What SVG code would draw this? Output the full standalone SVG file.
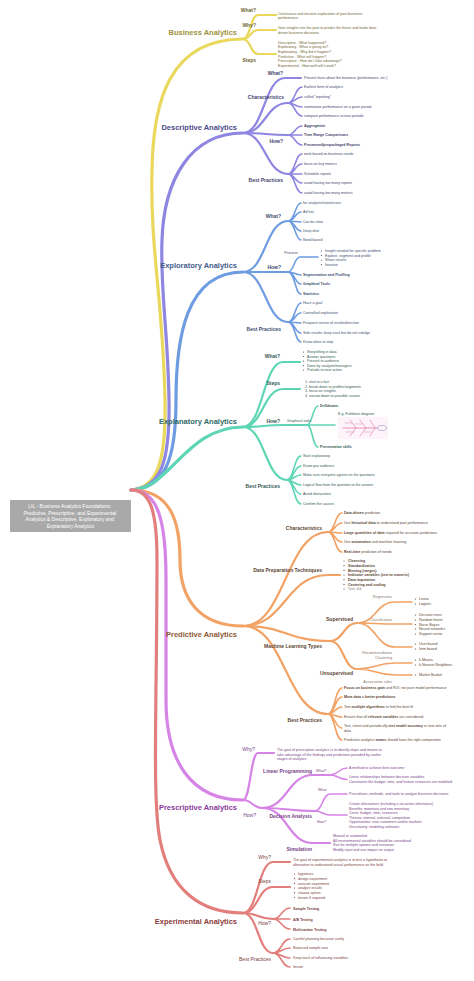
<svg xmlns="http://www.w3.org/2000/svg" width="474" height="981" viewBox="0 0 474 981">
<style>
text{font-family:"Liberation Sans",Arial,sans-serif}
path{fill:none;stroke-linecap:round}
.m{stroke-width:3.2}.s{stroke-width:2.2}.l{stroke-width:1.6}
.mt{font-size:7.5px;font-weight:bold;text-anchor:end}
.st{font-size:5px;font-weight:bold;text-anchor:end}
.sn{font-size:5px;text-anchor:end}
.lf{font-size:3.6px}
.lb{font-size:3.6px;font-weight:bold}
.gl{font-size:3.8px;fill:#8a8a8a;text-anchor:end}
.b{font-weight:bold}
.y{stroke:#e9d85c}.p{stroke:#8e86e0}.u{stroke:#6e9ce0}.g{stroke:#5ed6b5}.o{stroke:#f2a264}.v{stroke:#d684e6}.r{stroke:#e27e7b}
#business text{fill:#6e6633}#business .mt{fill:#a09240}
#descriptive text{fill:#44446e}#descriptive .mt{fill:#4b4b8a}
#exploratory text{fill:#3c4f70}#exploratory .mt{fill:#3f5c8c}
#explanatory text{fill:#355954}#explanatory .mt{fill:#2e6b66}
#predictive text{fill:#5c4534}#predictive .mt{fill:#8c5a35}#predictive .gl{fill:#8a7a70}
#prescriptive text{fill:#7a4488}#prescriptive .mt{fill:#8a3a99}
#experimental text{fill:#7a3e3e}#experimental .mt{fill:#8c3b3b}
</style>
<rect width="474" height="981" fill="#ffffff"/>

<g id="connectors">
<!-- main branches -->
<path class="m y" d="M131,490 C158,488 166,460 165,400 C163,300 150,250 152,170 C153,100 170,39 243,39"/>
<path class="m p" d="M131,490 C162,488 170,460 169,400 C168,330 160,290 162,240 C164,180 190,133 243,133"/>
<path class="m u" d="M131,490 C165,488 176,460 176,400 C176,340 185,272 243,272"/>
<path class="m g" d="M131,490 C170,490 185,427 243,427"/>
<path class="m o" d="M131,490 C170,490 180,520 180,560 C180,600 200,626 243,626"/>
<path class="m v" d="M131,490 C158,490 166,520 166,580 L166,700 C166,760 190,800 243,800"/>
<path class="m r" d="M131,490 C150,490 157,510 157,560 C157,700 152,800 160,840 C170,890 200,913 243,913"/>
<!-- business -->
<path class="s y" d="M243,39 C250.5,39 250.5,15 258,15 H276"/>
<path class="s y" d="M243,39 C250.5,39 250.5,30 258,30 H276"/>
<path class="s y" d="M243,39 C250.5,39 250.5,54 258,54 H276"/>
<!-- descriptive -->
<path class="s p" d="M243,133 C264,133 264,78 285,78 H301"/>
<path class="s p" d="M243,133 C265.5,133 265.5,103 288,103"/>
<path class="s p" d="M243,133 C265.5,133 265.5,135 288,135"/>
<path class="s p" d="M243,133 C265.5,133 265.5,174 288,174"/>
<path class="l p" d="M288,103 C295,103 295,87 302,87 M288,103 C295,103 295,97 302,97 M288,103 C295,103 295,107 302,107 M288,103 C295,103 295,116 302,116"/>
<path class="l p" d="M288,135 C295,135 295,126 302,126 M288,135 H302 M288,135 C295,135 295,145 302,145"/>
<path class="l p" d="M288,174 C295,174 295,154 302,154 M288,174 C295,174 295,164 302,164 M288,174 H302 M288,174 C295,174 295,183 302,183 M288,174 C295,174 295,193 302,193"/>
<!-- exploratory -->
<path class="s u" d="M243,272 C265.5,272 265.5,221 288,221"/>
<path class="s u" d="M243,272 H288"/>
<path class="s u" d="M243,272 C265.5,272 265.5,322 288,322"/>
<path class="l u" d="M288,221 C295,221 295,203 301,203 M288,221 C295,221 295,212 301,212 M288,221 C295,221 295,222 301,222 M288,221 C295,221 295,231 301,231 M288,221 C295,221 295,240 301,240"/>
<path class="l u" d="M288,272 C294,272 294,257 300,257 H318 M288,272 C295,272 295,275 301,275 M288,272 C295,272 295,284 301,284 M288,272 C295,272 295,294 301,294"/>
<path class="l u" d="M288,322 C295,322 295,303 301,303 M288,322 C295,322 295,313 301,313 M288,322 C295,322 295,323 301,323 M288,322 C295,322 295,333 301,333 M288,322 C295,322 295,342 301,342"/>
<!-- explanatory -->
<path class="s g" d="M243,427 C263,427 263,362 283,362 H300"/>
<path class="s g" d="M243,427 C263,427 263,389 283,389 H300"/>
<path class="s g" d="M243,427 C263,427 263,425 283,425 H307"/>
<path class="s g" d="M243,427 C265,427 265,480 287,480"/>
<path class="l g" d="M307,425 C312.5,425 312.5,406 318,406 M307,425 H335 M307,425 C312.5,425 312.5,447 318,447"/>
<path class="l g" d="M287,480 C294,480 294,456 301,456 M287,480 C294,480 294,466 301,466 M287,480 C294,480 294,475 301,475 M287,480 C294,480 294,485 301,485 M287,480 C294,480 294,494 301,494 M287,480 C294,480 294,504 301,504"/>
<!-- predictive -->
<path class="s o" d="M243,626 C285.5,626 285.5,532 328,532"/>
<path class="s o" d="M243,626 C285.5,626 285.5,575 328,575 H340"/>
<path class="s o" d="M243,626 C286.5,626 286.5,641 330,641"/>
<path class="s o" d="M243,626 C285.5,626 285.5,714 328,714"/>
<path class="l o" d="M328,532 C335,532 335,513 342,513 M328,532 C335,532 335,523 342,523 M328,532 C335,532 335,533 342,533 M328,532 C335,532 335,542 342,542 M328,532 C335,532 335,552 342,552"/>
<path class="s o" d="M330,641 C343.5,641 343.5,623 357,623 M330,641 C343.5,641 343.5,669 357,669"/>
<path class="l o" d="M357,623 C376,623 376,602 395,602 H412 M357,623 C376,623 376,624 395,624 H412 M357,623 C376,623 376,647 395,647 H412"/>
<path class="l o" d="M357,669 C376,669 376,663 395,663 H412 M357,669 C376,669 376,675 395,675 H412"/>
<path class="l o" d="M328,714 C335,714 335,688 342,688 M328,714 C335,714 335,697 342,697 M328,714 C335,714 335,707 342,707 M328,714 C335,714 335,717 342,717 M328,714 C335,714 335,728 342,728 M328,714 C335,714 335,740 342,740"/>
<!-- prescriptive -->
<path class="s v" d="M243,800 C250.5,800 250.5,753 258,753 H274"/>
<path class="s v" d="M243,800 C252.5,800 252.5,808 262,808"/>
<path class="s v" d="M262,808 C287.5,808 287.5,775 313,775 H330"/>
<path class="s v" d="M262,808 C288.5,808 288.5,811 315,811"/>
<path class="s v" d="M262,808 C287.5,808 287.5,843 313,843 H330"/>
<path class="l v" d="M330,775 C338.5,775 338.5,768 347,768 M330,775 C338.5,775 338.5,779.5 347,779.5"/>
<path class="l v" d="M315,811 C322.5,811 322.5,794 330,794 H347 M315,811 C322.5,811 322.5,815 330,815 H347"/>
<!-- experimental -->
<path class="s r" d="M243,913 C258,913 258,862 273,862 H290"/>
<path class="s r" d="M243,913 C258,913 258,887 273,887 H290"/>
<path class="s r" d="M243,913 C258,913 258,919 273,919"/>
<path class="s r" d="M243,913 C258,913 258,953 273,953"/>
<path class="l r" d="M273,919 C281.5,919 281.5,908 290,908 M273,919 H290 M273,919 C281.5,919 281.5,929 290,929"/>
<path class="l r" d="M273,953 C281.5,953 281.5,939 290,939 M273,953 C281.5,953 281.5,948 290,948 M273,953 C281.5,953 281.5,958 290,958 M273,953 C281.5,953 281.5,967 290,967"/>
</g>

<g id="root">
<rect x="10" y="500" width="121" height="32" rx="1" fill="#a9a9a9"/>
<text x="70.5" text-anchor="middle" font-size="5px" fill="#ffffff">
<tspan x="70.5" y="508">LIL - Business Analytics Foundations:</tspan>
<tspan x="70.5" y="514.5">Predictive, Prescriptive, and Experimental</tspan>
<tspan x="70.5" y="521">Analytics &amp; Descriptive, Exploratory and</tspan>
<tspan x="70.5" y="527.5">Explanatory Analytics</tspan>
</text>
</g>

<g id="business">
<text class="mt" x="237" y="34.7">Business Analytics</text>
<text class="st" x="256" y="11.8">What?</text>
<text class="st" x="256" y="26.8">Why?</text>
<text class="st" x="256" y="61.8">Steps</text>
<text class="lf" x="278" y="14.6">Continuous and iterative exploration of past business</text>
<text class="lf" x="278" y="19">performance</text>
<text class="lf" x="278" y="29.3">Gain insights into the past to predict the future and make data-</text>
<text class="lf" x="278" y="34">driven business decisions</text>
<text class="lf" x="278" y="43.6">Descriptive - What happened?</text>
<text class="lf" x="278" y="48.3">Exploratory - What is going on?</text>
<text class="lf" x="278" y="53">Explanatory - Why did it happen?</text>
<text class="lf" x="278" y="57.6">Predictive - What will happen?</text>
<text class="lf" x="278" y="62.3">Prescriptive - How do I take advantage?</text>
<text class="lf" x="278" y="67">Experimental - How well will it work?</text>
</g>

<g id="descriptive">
<text class="mt" x="237" y="129.7">Descriptive Analytics</text>
<text class="st" x="283" y="74.8">What?</text>
<text class="st" x="284" y="98.8">Characteristics</text>
<text class="st" x="283" y="142.8">How?</text>
<text class="st" x="283" y="181.8">Best Practices</text>
<text class="lf" x="304" y="79.3">Present facts about the business (performance, etc.)</text>
<text class="lf" x="304" y="88.3">Earliest form of analytics</text>
<text class="lf" x="304" y="98.3">called "reporting"</text>
<text class="lf" x="304" y="108.3">summarize performance on a given period</text>
<text class="lf" x="304" y="117.3">compare performance across periods</text>
<text class="lb" x="304" y="127.3">Aggregation</text>
<text class="lb" x="304" y="136.3">Time Range Comparisons</text>
<text class="lb" x="304" y="146.3">Precanned/prepackaged Reports</text>
<text class="lf" x="304" y="155.3">work based on business needs</text>
<text class="lf" x="304" y="165.3">focus on key metrics</text>
<text class="lf" x="304" y="175.3">Schedule reports</text>
<text class="lf" x="304" y="184.3">avoid having too many reports</text>
<text class="lf" x="304" y="194.3">avoid having too many metrics</text>
</g>

<g id="exploratory">
<text class="mt" x="237" y="267.7">Exploratory Analytics</text>
<text class="st" x="281" y="217.8">What?</text>
<text class="st" x="281" y="268.8">How?</text>
<text class="st" x="281" y="330.8">Best Practices</text>
<text class="lf" x="303" y="204.3">for analysts/statisticians</text>
<text class="lf" x="303" y="213.3">Ad hoc</text>
<text class="lf" x="303" y="223.3">Can be slow</text>
<text class="lf" x="303" y="232.3">Deep dive</text>
<text class="lf" x="303" y="241.3">Need based</text>
<text class="gl" x="298" y="254.3">Process</text>
<circle cx="321.5" cy="251" r="0.6" fill="#3c4f70"/><circle cx="321.5" cy="255.5" r="0.6" fill="#3c4f70"/><circle cx="321.5" cy="260" r="0.6" fill="#3c4f70"/><circle cx="321.5" cy="264.5" r="0.6" fill="#3c4f70"/>
<text class="lf" x="325" y="252.3">Insight needed for specific problem</text>
<text class="lf" x="325" y="256.8">Explore, segment and profile</text>
<text class="lf" x="325" y="261.3">Share results</text>
<text class="lf" x="325" y="265.8">Iterative</text>
<text class="lb" x="303" y="276.3">Segmentation and Profiling</text>
<text class="lb" x="303" y="285.3">Graphical Tools</text>
<text class="lb" x="303" y="295.3">Statistics</text>
<text class="lf" x="303" y="304.3">Have a goal</text>
<text class="lf" x="303" y="314.3">Controlled exploration</text>
<text class="lf" x="303" y="324.3">Frequent review of results/direction</text>
<text class="lf" x="303" y="334.3">Side results: keep track but do not indulge</text>
<text class="lf" x="303" y="343.3">Know when to stop</text>
</g>

<g id="explanatory">
<text class="mt" x="237" y="423.7">Explanatory Analytics</text>
<text class="st" x="280" y="357.8">What?</text>
<text class="st" x="280" y="384.8">Steps</text>
<text class="st" x="280" y="422.8">How?</text>
<text class="st" x="280" y="487.8">Best Practices</text>
<circle cx="303.5" cy="352" r="0.6" fill="#355954"/><circle cx="303.5" cy="356.5" r="0.6" fill="#355954"/><circle cx="303.5" cy="361" r="0.6" fill="#355954"/><circle cx="303.5" cy="365.5" r="0.6" fill="#355954"/><circle cx="303.5" cy="370" r="0.6" fill="#355954"/>
<text class="lf" x="307" y="353.3">Storytelling in data</text>
<text class="lf" x="307" y="357.8">Answer questions</text>
<text class="lf" x="307" y="362.3">Present to audience</text>
<text class="lf" x="307" y="366.8">Done by analysts/managers</text>
<text class="lf" x="307" y="371.3">Prelude to next action</text>
<text class="lf" x="305" y="383.3">1. start w a fact</text>
<text class="lf" x="305" y="387.8">2. break down to profiles/segments</text>
<text class="lf" x="305" y="392.3">3. focus on insights</text>
<text class="lf" x="305" y="396.8">4. narrow down to possible causes</text>
<text class="lf" x="287" y="422.3" font-size="3.8px">Graphical tools</text>
<text class="lb" x="320" y="407.3">Drilldowns</text>
<text class="lb" x="320" y="448.3">Presentation skills</text>
<text class="lf" x="338" y="415.3">E.g. Fishbone diagram</text>
<g id="fishbone">
<rect x="338" y="417" width="50" height="22" fill="#fdf3f8"/>
<path d="M343,428 H377" stroke="#e07aa8" stroke-width="0.8"/>
<path d="M350,420 L356,428 M360,420 L366,428 M370,420 L375,428 M350,436 L356,428 M360,436 L366,428 M370,436 L375,428" stroke="#e07aa8" stroke-width="0.6"/>
<ellipse cx="382" cy="428" rx="4.5" ry="2.5" fill="none" stroke="#8a7ab8" stroke-width="0.5"/>
<path d="M345,423 H352 M346,432 H354 M355,424 H362 M364,432 H371" stroke="#c070a0" stroke-width="0.4"/>
</g>
<text class="lf" x="303" y="457.3">Start explanatory</text>
<text class="lf" x="303" y="467.3">Know you audience</text>
<text class="lf" x="303" y="476.3">Make sure everyone agrees on the questions</text>
<text class="lf" x="303" y="486.3">Logical flow from the question to the answer</text>
<text class="lf" x="303" y="495.3">Avoid distractions</text>
<text class="lf" x="303" y="505.3">Confirm the causes</text>
</g>

<g id="predictive">
<text class="mt" x="237" y="636.7">Predictive Analytics</text>
<text class="st" x="322" y="529.8">Characteristics</text>
<text class="st" x="322" y="571.8">Data Preparation Techniques</text>
<text class="st" x="322" y="647.8">Machine Learning Types</text>
<text class="st" x="322" y="721.8">Best Practices</text>
<text class="lf" x="344" y="514.3"><tspan class="b">Data-driven</tspan> prediction</text>
<text class="lf" x="344" y="524.3">Use <tspan class="b">historical data</tspan> to understand past performance</text>
<text class="lf" x="344" y="534.3"><tspan class="b">Large quantities of data</tspan> required for accurate predictions</text>
<text class="lf" x="344" y="543.3">Use <tspan class="b">automation</tspan> and machine learning</text>
<text class="lf" x="344" y="553.3"><tspan class="b">Real-time</tspan> prediction of trends</text>
<circle cx="344" cy="561" r="0.6" fill="#5c4534"/><circle cx="344" cy="565.7" r="0.6" fill="#5c4534"/><circle cx="344" cy="570.4" r="0.6" fill="#5c4534"/><circle cx="344" cy="575" r="0.6" fill="#5c4534"/><circle cx="344" cy="579.7" r="0.6" fill="#5c4534"/><circle cx="344" cy="584.4" r="0.6" fill="#5c4534"/><circle cx="344" cy="589" r="0.6" fill="#5c4534"/>
<text class="lb" x="348" y="562.3">Cleansing</text>
<text class="lb" x="348" y="567">Standardization</text>
<text class="lb" x="348" y="571.7">Binning (ranges)</text>
<text class="lb" x="348" y="576.3">Indicator variables (text to numeric)</text>
<text class="lb" x="348" y="581">Data imputation</text>
<text class="lb" x="348" y="585.7">Centering and scaling</text>
<text class="lf" x="348" y="590.3" style="fill:#8a7a70">Test: d'd</text>
<text class="st" x="353" y="621.3" font-size="3.8px">Supervised</text>
<text class="st" x="353" y="675.3" font-size="3.8px">Unsupervised</text>
<text class="gl" x="392" y="598.3">Regression</text>
<text class="gl" x="392" y="621.3">Classification</text>
<text class="gl" x="392" y="654.3">Recommendation</text>
<text class="gl" x="392" y="659.3">Clustering</text>
<text class="gl" x="392" y="683.3">Association rules</text>
<g fill="#5c4534">
<circle cx="415.5" cy="599" r="0.6"/><circle cx="415.5" cy="604" r="0.6"/>
<circle cx="415.5" cy="615" r="0.6"/><circle cx="415.5" cy="620" r="0.6"/><circle cx="415.5" cy="624.5" r="0.6"/><circle cx="415.5" cy="629" r="0.6"/><circle cx="415.5" cy="634" r="0.6"/>
<circle cx="415.5" cy="644" r="0.6"/><circle cx="415.5" cy="649" r="0.6"/>
<circle cx="415.5" cy="660" r="0.6"/><circle cx="415.5" cy="665" r="0.6"/>
<circle cx="415.5" cy="675" r="0.6"/>
</g>
<text class="lf" x="419" y="600.3">Linear</text>
<text class="lf" x="419" y="605.3">Logistic</text>
<text class="lf" x="419" y="616.3">Decision trees</text>
<text class="lf" x="419" y="621.3">Random forest</text>
<text class="lf" x="419" y="625.8">Naive Bayes</text>
<text class="lf" x="419" y="630.3">Neural networks</text>
<text class="lf" x="419" y="635.3">Support vector</text>
<text class="lf" x="419" y="645.3">User based</text>
<text class="lf" x="419" y="650.3">Item based</text>
<text class="lf" x="419" y="661.3">k-Means</text>
<text class="lf" x="419" y="666.3">k-Nearest Neighbors</text>
<text class="lf" x="419" y="676.3">Market Basket</text>
<text class="lf" x="344" y="689.3"><tspan class="b">Focus on business gain</tspan> and ROI, not pure model performance</text>
<text class="lf" x="344" y="698.3"><tspan class="b">More data = better predictions</tspan></text>
<text class="lf" x="344" y="708.3">Test <tspan class="b">multiple algorithms</tspan> to find the best fit</text>
<text class="lf" x="344" y="718.3">Ensure that all <tspan class="b">relevant variables</tspan> are considered</text>
<text class="lf" x="344" y="727.3">Test, retest and periodically <tspan class="b">test model accuracy</tspan> w new sets of</text>
<text class="lf" x="344" y="731.7">data</text>
<text class="lf" x="344" y="741.3">Predictive analytics <tspan class="b">teams</tspan> should have the right composition</text>
</g>

<g id="prescriptive">
<text class="mt" x="237" y="809.7">Prescriptive Analytics</text>
<text class="sn" x="255" y="750.8">Why?</text>
<text class="sn" x="256" y="816.8">How?</text>
<text class="lf" x="277" y="751.3">The goal of prescriptive analytics is to identify steps and means to</text>
<text class="lf" x="277" y="755.8">take advantage of the findings and predictions provided by earlier</text>
<text class="lf" x="277" y="760.3">stages of analytics</text>
<text class="st" x="312" y="772.8">Linear Programming</text>
<text class="lf" x="316" y="772.4" font-size="4px">What?</text>
<text class="lf" x="349" y="769.3">A method to achieve best outcome</text>
<text class="lf" x="349" y="778.3">Linear relationships between decision variables</text>
<text class="lf" x="349" y="783.3">Constraints like budget, time, and human resources are modeled</text>
<text class="st" x="312" y="817.8">Decision Analysis</text>
<text class="lf" x="318" y="791.4" font-size="4px">What</text>
<text class="lf" x="317" y="823.4" font-size="4px">How?</text>
<text class="lf" x="349" y="795.3">Procedures, methods, and tools to analyze business decisions</text>
<text class="lf" x="349" y="805.3">Create alternatives (including a no-action alternative)</text>
<text class="lf" x="349" y="809.8">Benefits: monetary and non-monetary</text>
<text class="lf" x="349" y="814.3">Costs: budget, time, resources</text>
<text class="lf" x="349" y="818.8">Threats: internal, external, competition</text>
<text class="lf" x="349" y="823.3">Opportunities: new customers and/or markets</text>
<text class="lf" x="349" y="827.8">Uncertainty: modeling unknown</text>
<text class="st" x="312" y="850.8">Simulation</text>
<text class="lf" x="333" y="837.3">Manual or automated</text>
<text class="lf" x="333" y="841.8">All environmental variables should be considered</text>
<text class="lf" x="333" y="846.3">Run for multiple options and scenarios</text>
<text class="lf" x="333" y="850.8">Modify input and see impact on output</text>
</g>

<g id="experimental">
<text class="mt" x="237" y="923.7">Experimental Analytics</text>
<text class="sn" x="271" y="858.8">Why?</text>
<text class="sn" x="271" y="882.8">Steps</text>
<text class="sn" x="271" y="924.8">How?</text>
<text class="sn" x="271" y="960.8">Best Practices</text>
<text class="lf" x="293" y="861.3">The goal of experimental analytics is to test a hypothesis or</text>
<text class="lf" x="293" y="865.8">alternative to understand actual performance on the field</text>
<g fill="#7a3e3e">
<circle cx="294.5" cy="874" r="0.6"/><circle cx="294.5" cy="878.7" r="0.6"/><circle cx="294.5" cy="883.3" r="0.6"/><circle cx="294.5" cy="888" r="0.6"/><circle cx="294.5" cy="892.7" r="0.6"/><circle cx="294.5" cy="897.3" r="0.6"/>
</g>
<text class="lf" x="298" y="875.3">hypotesis</text>
<text class="lf" x="298" y="880">design experiment</text>
<text class="lf" x="298" y="884.6">execute experiment</text>
<text class="lf" x="298" y="889.3">analyze results</text>
<text class="lf" x="298" y="894">choose option</text>
<text class="lf" x="298" y="898.6">iterate if required</text>
<text class="lb" x="293" y="909.6" font-size="4.6px">Sample Testing</text>
<text class="lb" x="293" y="920.6" font-size="4.6px">A/B Testing</text>
<text class="lb" x="293" y="930.6" font-size="4.6px">Multivariate Testing</text>
<text class="lf" x="293" y="940.3">Careful planning because costly</text>
<text class="lf" x="293" y="949.3">Balanced sample size</text>
<text class="lf" x="293" y="959.3">Keep track of influencing variables</text>
<text class="lf" x="293" y="968.3">Iterate</text>
</g>
</svg>
